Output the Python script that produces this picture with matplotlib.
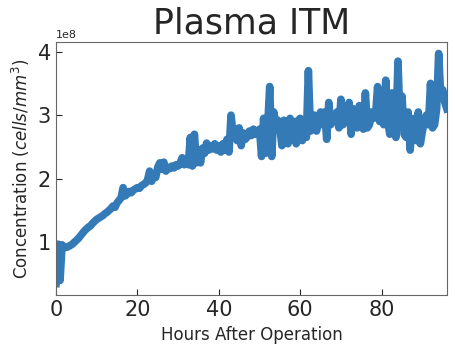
import numpy as np
import matplotlib
matplotlib.use("Agg")
import matplotlib.pyplot as plt

# sampling grid (hours) and concentration in units of 1e8 cells/mm^3
hours = np.arange(0, 96.5, 0.5)
conc = [
    0.35, 0.97, 0.40, 0.96, 0.92, 0.92, 0.93, 0.95, 0.97, 1.00,
    1.03, 1.06, 1.10, 1.14, 1.18, 1.21, 1.24, 1.26, 1.30, 1.33,
    1.36, 1.38, 1.40, 1.42, 1.45, 1.47, 1.50, 1.53, 1.57, 1.55,
    1.62, 1.66, 1.70, 1.86, 1.73, 1.76, 1.80, 1.78, 1.82, 1.84,
    1.86, 1.85, 1.89, 1.91, 1.93, 1.98, 2.12, 1.96, 2.06, 2.02,
    2.18, 2.25, 2.15, 2.26, 2.12, 2.18, 2.16, 2.20, 2.17, 2.22,
    2.20, 2.25, 2.33, 2.22, 2.27, 2.22, 2.65, 2.20, 2.70, 2.25,
    2.45, 2.25, 2.48, 2.40, 2.56, 2.45, 2.52, 2.47, 2.55, 2.45,
    2.52, 2.42, 2.55, 2.45, 2.62, 2.42, 3.00, 2.70, 2.78, 2.60,
    2.80, 2.52, 2.72, 2.62, 2.66, 2.75, 2.68, 2.78, 2.70, 2.74,
    2.78, 2.35, 2.95, 2.40, 2.82, 3.45, 2.35, 3.05, 2.85, 2.92,
    2.80, 2.52, 2.92, 2.85, 2.55, 2.95, 2.82, 2.90, 2.55, 2.92,
    2.95, 2.60, 2.85, 2.65, 3.70, 2.75, 2.80, 3.00, 2.75, 2.92,
    3.05, 2.85, 3.05, 2.62, 3.20, 2.85, 2.95, 2.92, 3.05, 2.80,
    3.25, 2.85, 3.00, 2.90, 3.20, 2.70, 3.10, 2.95, 2.80, 3.15,
    3.00, 2.78, 3.35, 2.80, 2.85, 3.05, 2.95, 3.00, 3.45, 2.90,
    3.05, 2.85, 3.55, 2.90, 2.70, 3.35, 3.10, 2.65, 3.85, 2.90,
    3.30, 2.70, 2.65, 3.05, 2.45, 2.90, 2.95, 2.60, 3.05, 2.55,
    2.75, 2.90, 3.00, 2.85, 3.50, 2.80, 2.85, 3.10, 3.97, 3.30,
    3.40, 3.20, 3.10,
]
conc = np.array(conc) * 1e8

txt = "#262626"
fig = plt.figure(figsize=(4.55, 3.53), dpi=100)
ax = fig.add_axes([0.123, 0.164, 0.859, 0.717])

ax.plot(hours, conc, color="#337ab7", lw=5.5, solid_joinstyle="round")
ax.set_xlim(0, 96)
ax.margins(y=0.05)

ax.set_title("Plasma ITM", fontsize=25, color=txt)
ax.set_xlabel("Hours After Operation", fontsize=12, color=txt)
ax.set_ylabel("Concentration ($cells/mm^3$)", fontsize=12, color=txt)
ax.tick_params(direction="in", labelsize=15, colors=txt, length=4)
ax.yaxis.get_offset_text().set_fontsize(8)
ax.yaxis.get_offset_text().set_color(txt)
for s in ax.spines.values():
    s.set_color("0.4")

fig.savefig("out.png", dpi=100)
